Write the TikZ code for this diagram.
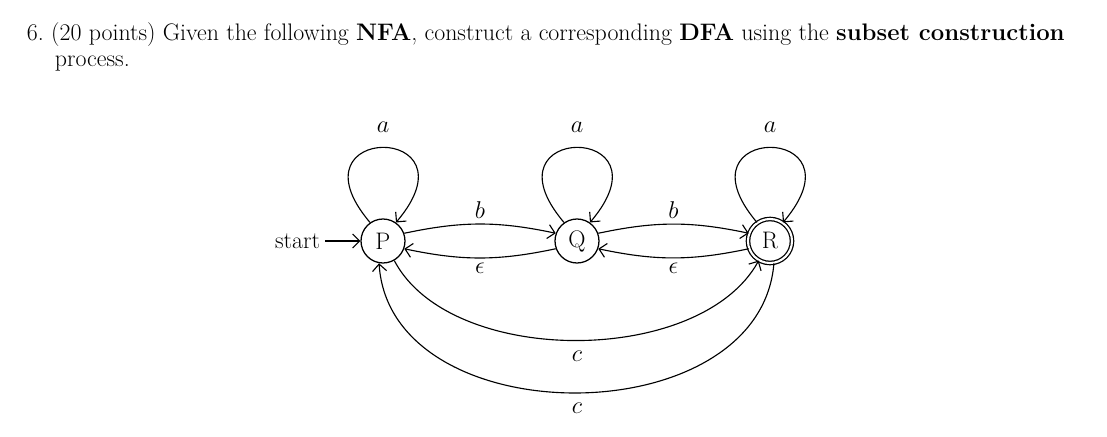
\documentclass[tikz,border=0pt]{standalone}
\usetikzlibrary{arrows.meta}
\begin{document}
\begin{tikzpicture}[x=0.025cm,y=-0.025cm,
  st/.style={circle,draw,line width=0.9pt,minimum size=44*0.025cm,inner sep=0pt,font=\fontsize{17}{20}\selectfont},
  lbl/.style={font=\fontsize{17}{20}\selectfont},
  edge/.style={->,>={Straight Barb[length=5pt]},line width=0.8pt}]
\useasboundingbox (0,0) rectangle (1107,436);
\node[lbl,anchor=base west] (h1) at (22,40) {6.\ (20 points) Given the following \textbf{NFA}, construct a corresponding \textbf{DFA} using the \textbf{subset construction}};
\node[lbl,anchor=base west] (h2) at (50,66) {process.};
\node[st] (P) at (383,241) {P};
\node[st] (Q) at (577,241) {Q};
\node[st,double,double distance=1.5pt] (R) at (770,241) {R};
\node[lbl,anchor=east] (s) at (325,241) {start};
\draw[edge] (s) -- (P);
\foreach \n in {P,Q,R}{
  \draw[edge] (\n.125) .. controls +(-85,-100) and +(85,-100) .. (\n.55);
}
\node[lbl] (a1) at (383,127) {$a$};
\node[lbl] (a2) at (577,127) {$a$};
\node[lbl] (a3) at (770,127) {$a$};
\draw[edge] (P.20) to[bend left=12] node[lbl,above] {$b$} (Q.160);
\draw[edge] (Q.200) to[bend left=12] node[lbl,below] {$\epsilon$} (P.340);
\draw[edge] (Q.20) to[bend left=12] node[lbl,above] {$b$} (R.160);
\draw[edge] (R.200) to[bend left=12] node[lbl,below] {$\epsilon$} (Q.340);
\draw[edge] (P.300) .. controls (450,367) and (700,367) .. (R.240);
\node[lbl] (c1) at (577,356) {$c$};
\draw[edge] (R.280) .. controls (760,436) and (390,436) .. (P.260);
\node[lbl] (c2) at (577,408) {$c$};
\end{tikzpicture}
\end{document}
